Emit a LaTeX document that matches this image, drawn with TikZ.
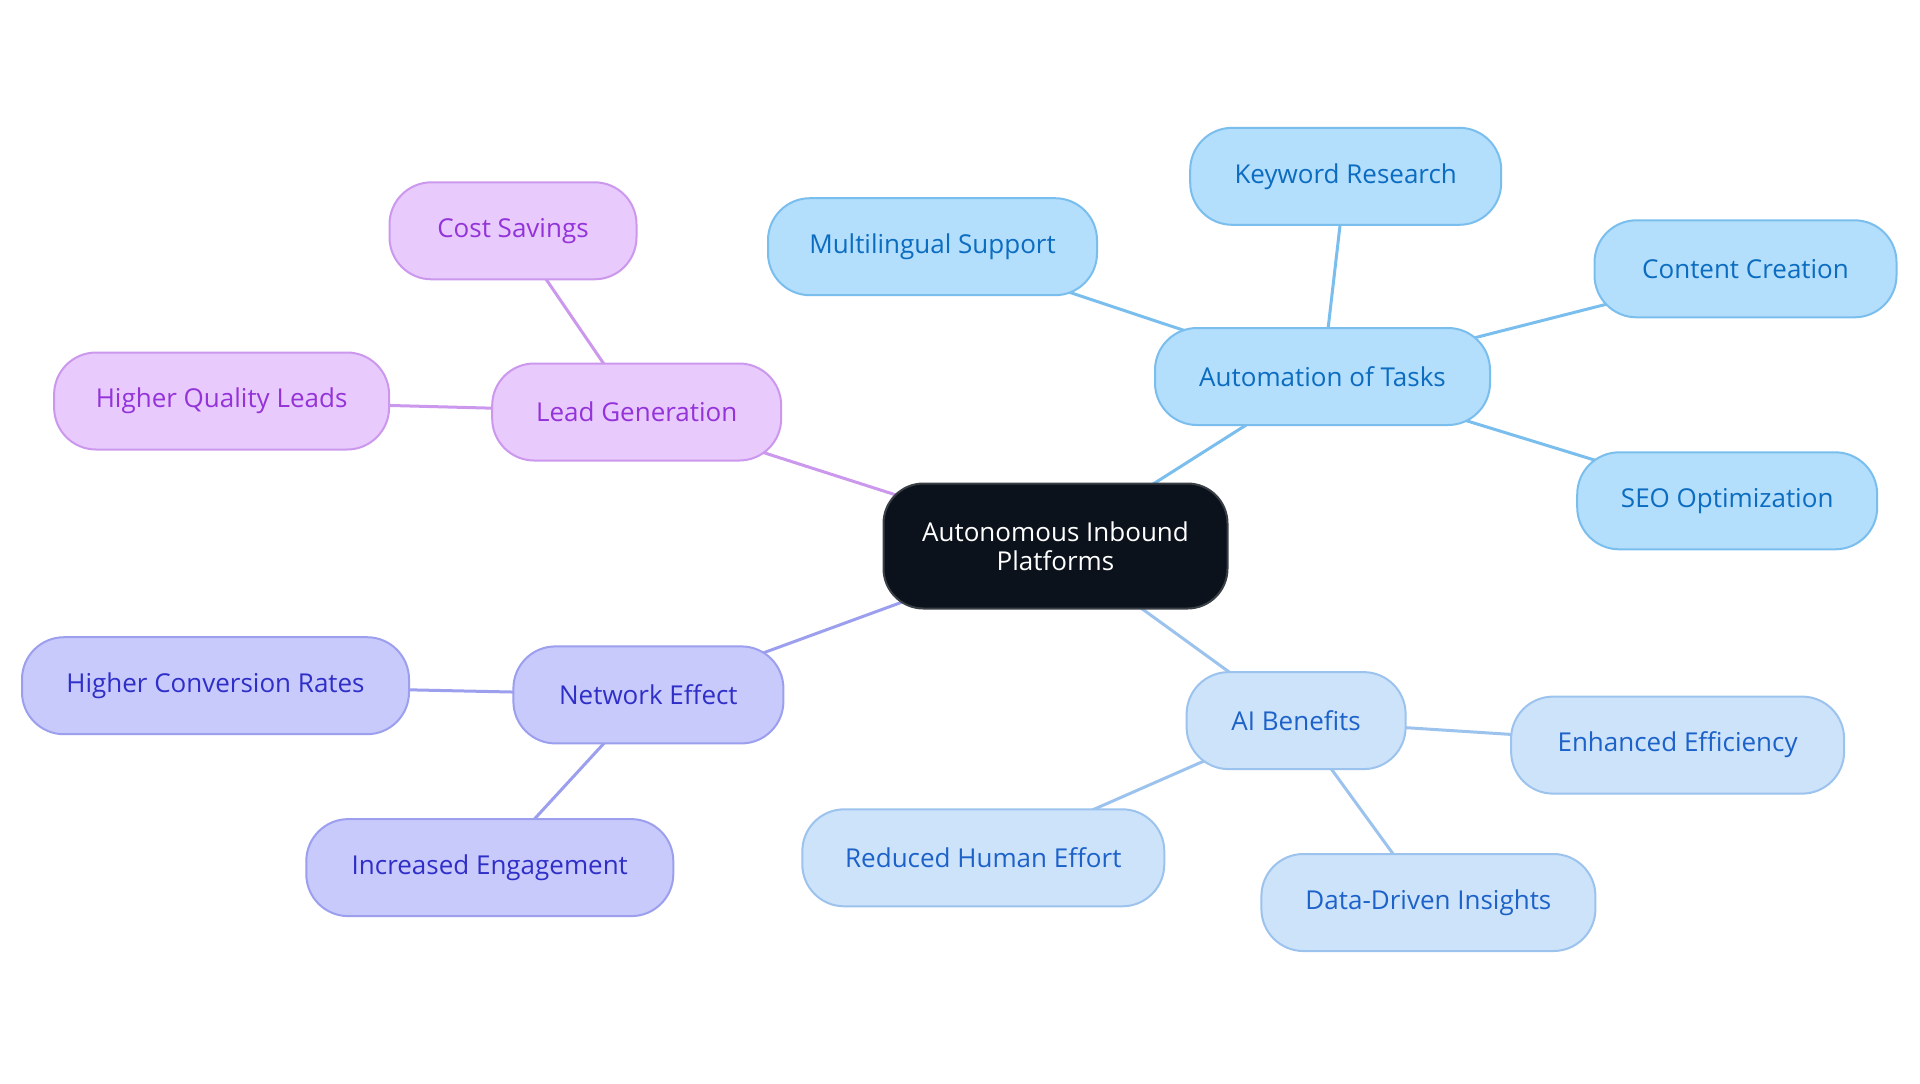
\documentclass[tikz,border=0pt]{standalone}
\usepackage{fontspec}
\setmainfont{Open Sans}
\usetikzlibrary{backgrounds}
\definecolor{cfill}{HTML}{0B121C}
\definecolor{cdraw}{HTML}{3A3F46}
\definecolor{bfill}{HTML}{B3DEFC}
\definecolor{bdraw}{HTML}{7ABEEE}
\definecolor{btext}{HTML}{0B6CC0}
\definecolor{pfill}{HTML}{E8CAFD}
\definecolor{pdraw}{HTML}{CB98EE}
\definecolor{ptext}{HTML}{9333D8}
\definecolor{ifill}{HTML}{C8CAFC}
\definecolor{idraw}{HTML}{9B9FEE}
\definecolor{itext}{HTML}{2F2FC8}
\definecolor{afill}{HTML}{CDE3FA}
\definecolor{adraw}{HTML}{9CC3EE}
\definecolor{atext}{HTML}{1C62C9}
\tikzset{
  x=0.5pt, y=-0.5pt,
  box/.style={rectangle, rounded corners=21pt, line width=1pt, minimum height=48.5pt,
    inner xsep=0pt, inner ysep=0pt, font=\fontsize{13}{15}\selectfont, align=center},
  centerbox/.style={box, fill=cfill, draw=cdraw, text=white, minimum height=62.5pt,
    minimum width=172pt, rounded corners=20pt, font=\fontsize{13}{14.5}\selectfont},
  bluebox/.style={box, fill=bfill, draw=bdraw, text=btext},
  purplebox/.style={box, fill=pfill, draw=pdraw, text=ptext},
  indigobox/.style={box, fill=ifill, draw=idraw, text=itext},
  aibox/.style={box, fill=afill, draw=adraw, text=atext},
  blueline/.style={draw=bdraw, line width=1.5pt},
  purpleline/.style={draw=pdraw, line width=1.5pt},
  indigoline/.style={draw=idraw, line width=1.5pt},
  ailine/.style={draw=adraw, line width=1.5pt},
}
\begin{document}
\begin{tikzpicture}
\useasboundingbox (0,0) rectangle (1920,1083);

\node[centerbox] (root) at (1055.5,546) {Autonomous Inbound\\Platforms};

\node[bluebox, minimum width=167.5pt] (auto) at (1322.5,376.5) {Automation of Tasks};
\node[bluebox, minimum width=155.5pt] (kw) at (1345.7,176.3) {Keyword Research};
\node[bluebox, minimum width=164.5pt] (multi) at (932.5,246.7) {Multilingual Support};
\node[bluebox, minimum width=151pt] (content) at (1745.5,268.8) {Content Creation};
\node[bluebox, minimum width=150pt] (seo) at (1727.2,500.8) {SEO Optimization};

\node[purplebox, minimum width=144.5pt] (lead) at (636.7,412) {Lead Generation};
\node[purplebox, minimum width=123.5pt] (cost) at (513,230.8) {Cost Savings};
\node[purplebox, minimum width=167.5pt] (hql) at (221.6,401) {Higher Quality Leads};

\node[indigobox, minimum width=135pt] (net) at (648.4,694.9) {Network Effect};
\node[indigobox, minimum width=193.5pt] (hcr) at (215.5,685.7) {Higher Conversion Rates};
\node[indigobox, minimum width=183.5pt] (eng) at (489.8,867.6) {Increased Engagement};

\node[aibox, minimum width=109.5pt] (ai) at (1296.1,720.6) {AI Benefits};
\node[aibox, minimum width=166.5pt] (eff) at (1677.6,745.1) {Enhanced Efficiency};
\node[aibox, minimum width=181pt] (rhe) at (983.3,857.8) {Reduced Human Effort};
\node[aibox, minimum width=167pt] (ddi) at (1428.4,902.5) {Data-Driven Insights};

\begin{scope}[on background layer]
  \fill[white] (0,0) rectangle (1920,1083);
  \draw[blueline] (root.center) -- (auto.center);
  \draw[blueline] (auto.center) -- (kw.center);
  \draw[blueline] (auto.center) -- (multi.center);
  \draw[blueline] (auto.center) -- (content.center);
  \draw[blueline] (auto.center) -- (seo.center);
  \draw[purpleline] (root.center) -- (lead.center);
  \draw[purpleline] (lead.center) -- (cost.center);
  \draw[purpleline] (lead.center) -- (hql.center);
  \draw[indigoline] (root.center) -- (net.center);
  \draw[indigoline] (net.center) -- (hcr.center);
  \draw[indigoline] (net.center) -- (eng.center);
  \draw[ailine] (root.center) -- (ai.center);
  \draw[ailine] (ai.center) -- (eff.center);
  \draw[ailine] (ai.center) -- (rhe.center);
  \draw[ailine] (ai.center) -- (ddi.center);
\end{scope}
\end{tikzpicture}
\end{document}
